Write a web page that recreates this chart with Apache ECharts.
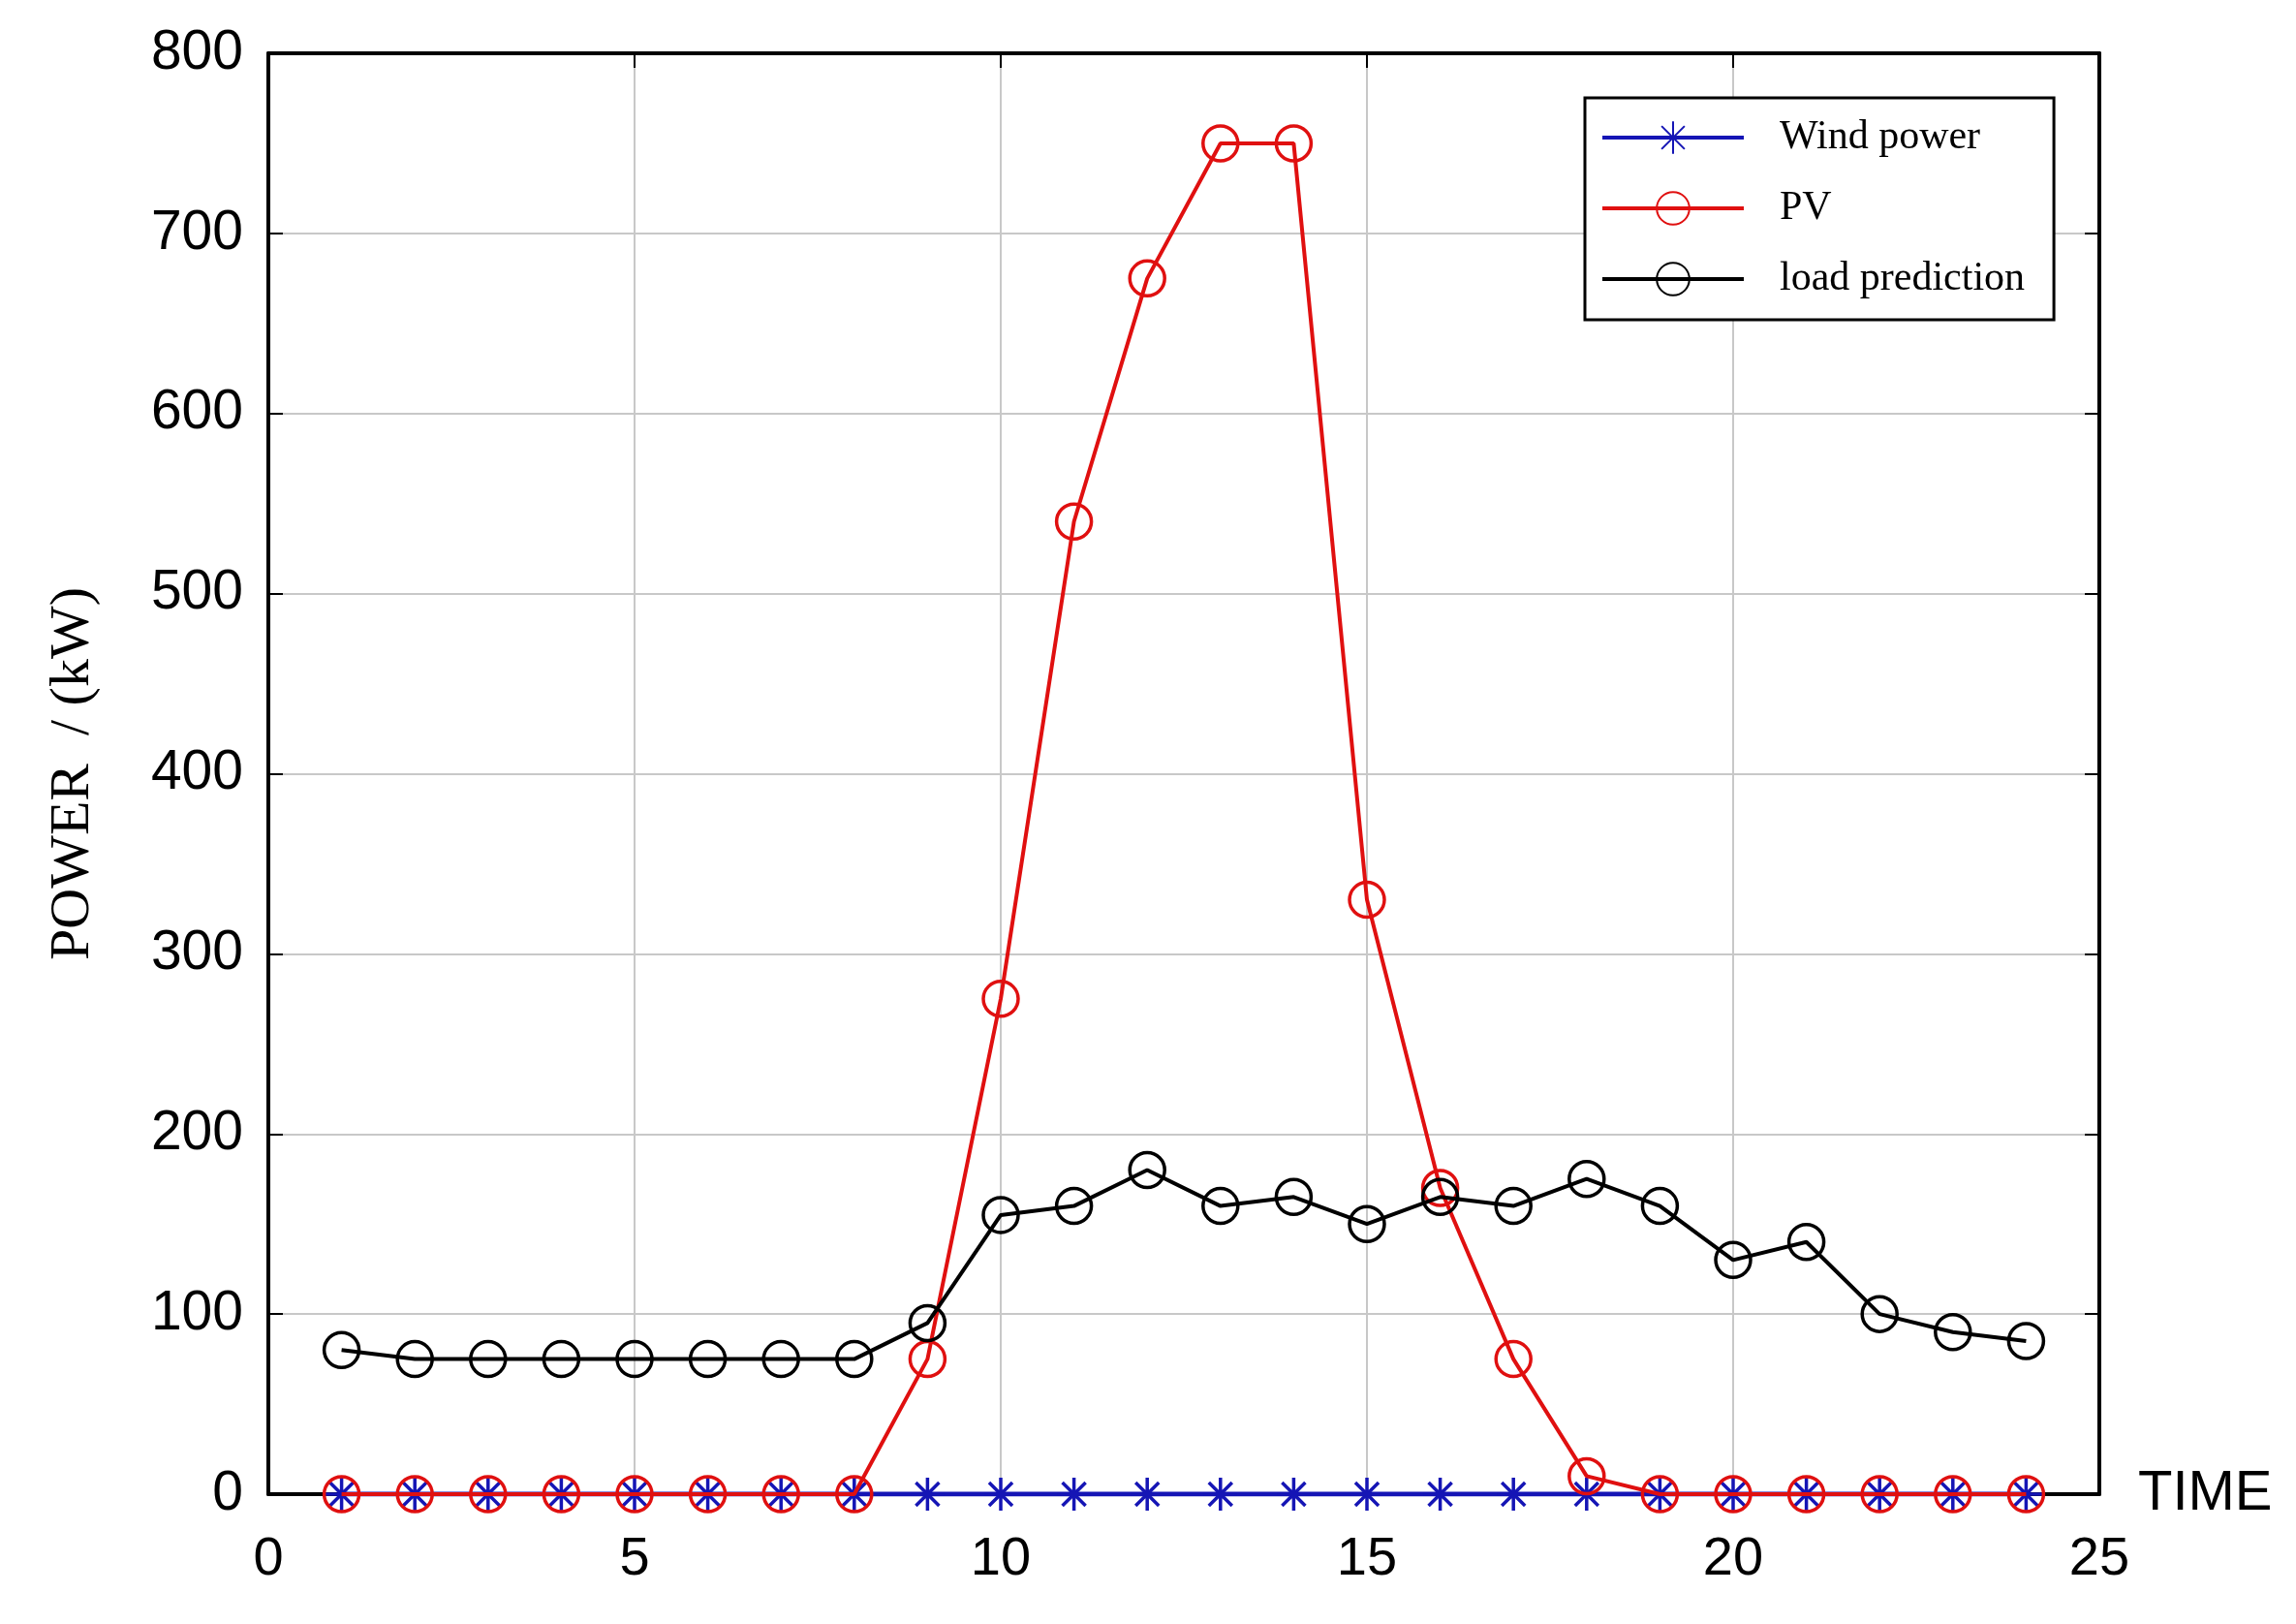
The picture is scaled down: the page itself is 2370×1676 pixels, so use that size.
<!DOCTYPE html>
<html>
<head>
<meta charset="utf-8">
<script src="https://cdn.jsdelivr.net/npm/echarts@6/dist/echarts.min.js"></script>
<style>
html,body{margin:0;padding:0;background:#fff;}
#chart{width:2370px;height:1676px;}
</style>
</head>
<body>
<div id="chart"></div>
<script>
const hours = [1,2,3,4,5,6,7,8,9,10,11,12,13,14,15,16,17,18,19,20,21,22,23,24];
const windPower = [0,0,0,0,0,0,0,0,0,0,0,0,0,0,0,0,0,0,0,0,0,0,0,0];
const pvPower = [0,0,0,0,0,0,0,0,75,275,540,675,750,750,330,170,75,10,0,0,0,0,0,0];
const loadPrediction = [80,75,75,75,75,75,75,75,95,155,160,180,160,165,150,165,160,175,160,130,140,100,90,85];
const xTicks = [0,5,10,15,20,25];
const yTicks = [0,100,200,300,400,500,600,700,800];
const seriesNames = ['Wind power','PV','load prediction'];

const pair = (ys) => hours.map((h,i)=>[h, ys[i]]);
const asterisk = 'path://M0,-10L0,10M-10,0L10,0M-7.07,-7.07L7.07,7.07M-7.07,7.07L7.07,-7.07';

const chart = echarts.init(document.getElementById('chart'));
const sans = 'Liberation Sans, Arial, sans-serif';
const serif = 'Liberation Serif, Times New Roman, serif';

const baseX = {
  type:'value', min:xTicks[0], max:xTicks[xTicks.length-1], interval:5
};
const baseY = {
  type:'value', min:yTicks[0], max:yTicks[yTicks.length-1], interval:100
};
const frameLine = {show:true, onZero:false, lineStyle:{color:'#000', width:4}};
const inTick = {show:true, inside:true, length:15, lineStyle:{color:'#000', width:2}};

chart.setOption({
  backgroundColor:'#fff',
  animation:false,
  grid:{left:277, right:203, top:55, bottom:134, containLabel:false},
  legend:{
    orient:'vertical',
    left:1636, top:101,
    data:seriesNames,
    backgroundColor:'#fff',
    borderColor:'#000', borderWidth:3, borderRadius:0,
    padding:[20,30,21,16],
    itemGap:31,
    itemWidth:146, itemHeight:42,
    lineStyle:{width:4},
    textStyle:{fontFamily:serif, fontSize:42, color:'#000', padding:[0,0,0,32], lineHeight:42}
  },
  xAxis:[
    Object.assign({}, baseX, {
      position:'bottom',
      name:'TIME', nameLocation:'end', nameGap:40,
      nameTextStyle:{fontFamily:sans, fontSize:58, color:'#000', verticalAlign:'middle', padding:[0,0,10,0]},
      axisLine:frameLine,
      axisTick:inTick,
      axisLabel:{show:true, fontFamily:sans, fontSize:56, color:'#000', margin:40,
                 formatter:v=>String(v)},
      splitLine:{show:true, lineStyle:{color:'#c8c8c8', width:2}}
    }),
    Object.assign({}, baseX, {
      position:'top',
      axisLine:frameLine,
      axisTick:inTick,
      axisLabel:{show:false},
      splitLine:{show:false}
    })
  ],
  yAxis:[
    Object.assign({}, baseY, {
      position:'left',
      name:'POWER  / (kW)', nameLocation:'middle', nameRotate:90, nameGap:172,
      nameTextStyle:{fontFamily:serif, fontSize:58, color:'#000'},
      axisLine:frameLine,
      axisTick:inTick,
      axisLabel:{show:true, fontFamily:sans, fontSize:57, color:'#000', margin:26},
      splitLine:{show:true, lineStyle:{color:'#c8c8c8', width:2}}
    }),
    Object.assign({}, baseY, {
      position:'right',
      axisLine:frameLine,
      axisTick:inTick,
      axisLabel:{show:false},
      splitLine:{show:false}
    })
  ],
  series:[
    {
      name:seriesNames[0], type:'line', xAxisIndex:0, yAxisIndex:0,
      data:pair(windPower),
      symbol:asterisk, symbolSize:34, symbolKeepAspect:true,
      lineStyle:{color:'#1515b5', width:5},
      itemStyle:{color:'#1515b5', borderColor:'#1515b5', borderWidth:3.5},
      z:2
    },
    {
      name:seriesNames[1], type:'line', xAxisIndex:0, yAxisIndex:0,
      data:pair(pvPower),
      symbol:'circle', symbolSize:36,
      lineStyle:{color:'#e01010', width:4},
      itemStyle:{color:'rgba(0,0,0,0)', borderColor:'#e01010', borderWidth:3.5},
      z:3
    },
    {
      name:seriesNames[2], type:'line', xAxisIndex:0, yAxisIndex:0,
      data:pair(loadPrediction),
      symbol:'circle', symbolSize:36,
      lineStyle:{color:'#000', width:4},
      itemStyle:{color:'rgba(0,0,0,0)', borderColor:'#000', borderWidth:3.5},
      z:4
    }
  ]
});
</script>
</body>
</html>
